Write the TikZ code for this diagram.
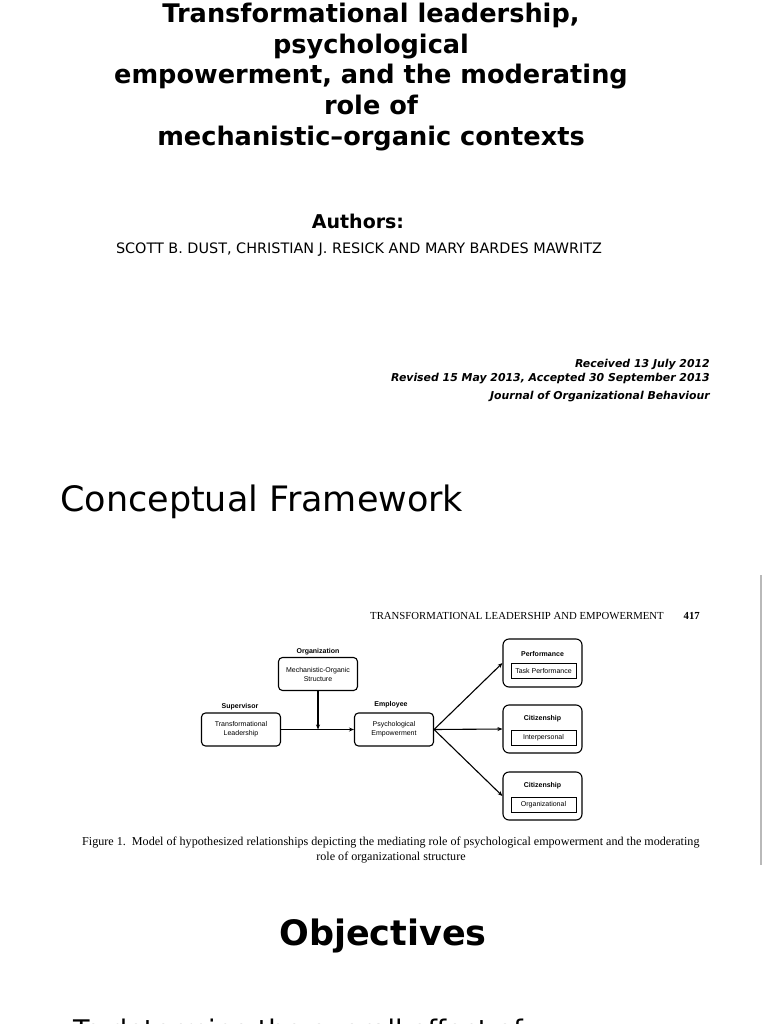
\documentclass[tikz,border=0pt]{standalone}
\usepackage{fontspec}
\setmainfont{DejaVu Sans}
\newfontfamily\figsans{Liberation Sans}
\newfontfamily\figserif{Liberation Serif}
\usetikzlibrary{arrows.meta}
\begin{document}
\begin{tikzpicture}[x=1pt,y=-1pt,
  titleline/.style={anchor=base, inner sep=0, font={\fontsize{25.6}{30}\selectfont\bfseries}},
  dateline/.style={anchor=base east, inner sep=0, font={\fontsize{10.9}{13}\selectfont\bfseries\itshape}},
  fbox/.style={draw, rounded corners=4, line width=1.1, minimum width=79, minimum height=33, align=center, inner sep=0, font={\figsans\fontsize{7}{9}\selectfont}},
  obox/.style={draw, rounded corners=6, line width=1.1, minimum width=79, minimum height=48, inner sep=0},
  ibox/.style={draw, line width=1.0, minimum width=65, minimum height=15, inner sep=0, font={\figsans\fontsize{7}{9}\selectfont}},
  flabel/.style={inner sep=0, font={\figsans\bfseries\fontsize{7}{9}\selectfont}},
  arr/.style={line width=1.1, -{Stealth[length=5pt,width=4pt]}},
  capline/.style={inner sep=0, font={\figserif\fontsize{12.1}{14}\selectfont}}
]
\useasboundingbox (0,0) rectangle (768,1024);
\clip (0,0) rectangle (768,1024);

% Title
\node[titleline] (t1) at (371,23) {Transformational leadership,};
\node[titleline] (t2) at (371,54) {psychological};
\node[titleline] (t3) at (371,84) {empowerment, and the moderating};
\node[titleline] (t4) at (371,115) {role of};
\node[titleline] (t5) at (371,146) {mechanistic–organic contexts};

% Authors
\node[anchor=base, inner sep=0, font={\fontsize{19}{22}\selectfont\bfseries}] (auth) at (358,229) {Authors:};
\node[anchor=base, inner sep=0, font={\fontsize{14.4}{17}\selectfont}] (names) at (359,253) {SCOTT B. DUST, CHRISTIAN J. RESICK AND MARY BARDES MAWRITZ};

% Dates
\node[dateline] (rec) at (710,367) {Received 13 July 2012};
\node[dateline] (rev) at (710,381) {Revised 15 May 2013, Accepted 30 September 2013};
\node[dateline] (jrn) at (710,399) {Journal of Organizational Behaviour};

% Section heading
\node[anchor=base west, inner sep=0, font={\fontsize{35}{40}\selectfont}] (cf) at (60,511) {Conceptual Framework};

% Figure
\draw[gray!55, line width=1.2] (761,575) -- (761,865);
\node[anchor=base west, inner sep=0, font={\figserif\fontsize{10.75}{12}\selectfont}] (hdr) at (370,619) {TRANSFORMATIONAL LEADERSHIP AND EMPOWERMENT};
\node[anchor=base east, inner sep=0, font={\figserif\bfseries\fontsize{10.75}{12}\selectfont}] (pg) at (700,619) {417};

\node[fbox] (mech) at (318,674) {Mechanistic-Organic\\Structure};
\node[fbox] (tl) at (241,729.5) {Transformational\\Leadership};
\node[fbox] (pe) at (394,729.5) {Psychological\\Empowerment};
\node[flabel] (orgl) at (318,652) {Organization};
\node[flabel] (supl) at (240,707) {Supervisor};
\node[flabel] (empl) at (391,705) {Employee};

\node[obox] (perf) at (542.5,663) {};
\node[flabel] (perfl) at (542.5,654) {Performance};
\node[ibox] (task) at (543.5,671) {Task Performance};

\node[obox] (cit1) at (542.5,729) {};
\node[flabel] (cit1l) at (542.5,719) {Citizenship};
\node[ibox] (inter) at (543.5,738) {Interpersonal};

\node[obox] (cit2) at (542.5,796) {};
\node[flabel] (cit2l) at (542.5,786) {Citizenship};
\node[ibox] (orgz) at (543.5,804.5) {Organizational};

\draw[arr] (tl.east) -- (pe.west);
\coordinate (junc) at (mech.south |- tl.east);
\draw[arr] (mech.south) -- (junc);
\draw[arr] (pe.east) -- (perf.west);
\draw[arr] (pe.east) -- (cit1.west);
\draw[arr] (pe.east) -- (cit2.west);

\node[capline, anchor=base west] (cap1) at (82,845) {Figure 1.\ \ Model of hypothesized relationships depicting the mediating role of psychological empowerment and the moderating};
\node[capline, anchor=base] (cap2) at (391,860) {role of organizational structure};

% Objectives
\node[anchor=base, inner sep=0, font={\fontsize{35}{40}\selectfont\bfseries}] (obj) at (383,945) {Objectives};
\node[anchor=base west, inner sep=0, font={\fontsize{27}{32}\selectfont}] (bul) at (73,1039) {To determine the overall effect of};
\end{tikzpicture}
\end{document}
